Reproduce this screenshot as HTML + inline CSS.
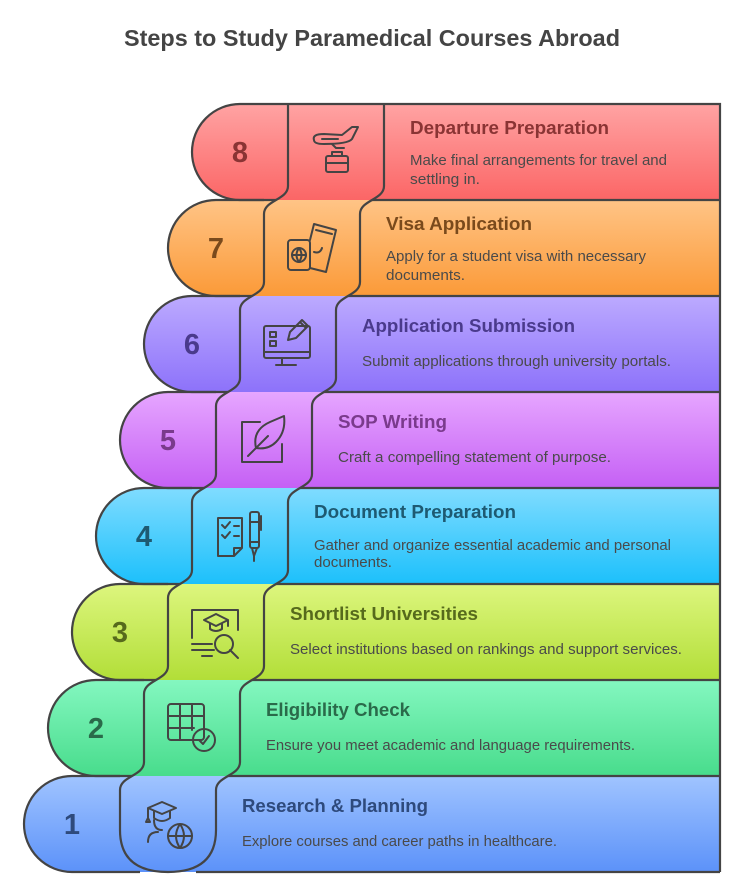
<!DOCTYPE html>
<html><head><meta charset="utf-8"><style>
html,body{margin:0;padding:0;background:#fff;}
svg{display:block;font-family:"Liberation Sans",sans-serif;}
.t{font-weight:bold;font-size:18.4px;}
.d{font-size:14.6px;fill:#4a4a4a;}
.n{font-weight:bold;font-size:29px;text-anchor:middle;}
.ic{fill:none;stroke:#444;stroke-width:2;stroke-linecap:round;stroke-linejoin:round;}
</style></head><body>
<svg width="744" height="879" viewBox="0 0 744 879">
<defs>
<linearGradient id="g8" x1="0" y1="0" x2="0" y2="1"><stop offset="0" stop-color="#ffa3a3"/><stop offset="1" stop-color="#fb6666"/></linearGradient>
<linearGradient id="g7" x1="0" y1="0" x2="0" y2="1"><stop offset="0" stop-color="#ffc486"/><stop offset="1" stop-color="#fb9a38"/></linearGradient>
<linearGradient id="g6" x1="0" y1="0" x2="0" y2="1"><stop offset="0" stop-color="#bcaaff"/><stop offset="1" stop-color="#8d72fa"/></linearGradient>
<linearGradient id="g5" x1="0" y1="0" x2="0" y2="1"><stop offset="0" stop-color="#e6a6ff"/><stop offset="1" stop-color="#c560f5"/></linearGradient>
<linearGradient id="g4" x1="0" y1="0" x2="0" y2="1"><stop offset="0" stop-color="#80dcff"/><stop offset="1" stop-color="#1cc0fb"/></linearGradient>
<linearGradient id="g3" x1="0" y1="0" x2="0" y2="1"><stop offset="0" stop-color="#ddf67e"/><stop offset="1" stop-color="#b2de38"/></linearGradient>
<linearGradient id="g2" x1="0" y1="0" x2="0" y2="1"><stop offset="0" stop-color="#84f7c0"/><stop offset="1" stop-color="#48dc8c"/></linearGradient>
<linearGradient id="g1" x1="0" y1="0" x2="0" y2="1"><stop offset="0" stop-color="#a0c4ff"/><stop offset="1" stop-color="#5c92f9"/></linearGradient>
</defs>
<text x="124" y="46" textLength="496" lengthAdjust="spacingAndGlyphs" style="font-weight:bold;font-size:23px;fill:#444">Steps to Study Paramedical Courses Abroad</text>

<path d="M240,104 H720 V200 H240 A48,48 0 0 1 240,104 Z" fill="url(#g8)"/>
<path d="M216,200 H720 V296 H216 A48,48 0 0 1 216,200 Z" fill="url(#g7)"/>
<path d="M192,296 H720 V392 H192 A48,48 0 0 1 192,296 Z" fill="url(#g6)"/>
<path d="M168,392 H720 V488 H168 A48,48 0 0 1 168,392 Z" fill="url(#g5)"/>
<path d="M144,488 H720 V584 H144 A48,48 0 0 1 144,488 Z" fill="url(#g4)"/>
<path d="M120,584 H720 V680 H120 A48,48 0 0 1 120,584 Z" fill="url(#g3)"/>
<path d="M96,680 H720 V776 H96 A48,48 0 0 1 96,680 Z" fill="url(#g2)"/>
<path d="M72,776 H720 V872 H72 A48,48 0 0 1 72,776 Z" fill="url(#g1)"/>

<g fill="none" stroke="#444" stroke-width="2.2">
<path d="M240,104 H720 V872"/>
<path d="M240,104 A48,48 0 0 0 240,200 H276"/>
<path d="M264,200 H216 A48,48 0 0 0 216,296 H252"/>
<path d="M240,296 H192 A48,48 0 0 0 192,392 H228"/>
<path d="M216,392 H168 A48,48 0 0 0 168,488 H204"/>
<path d="M192,488 H144 A48,48 0 0 0 144,584 H180"/>
<path d="M168,584 H120 A48,48 0 0 0 120,680 H156"/>
<path d="M144,680 H96 A48,48 0 0 0 96,776 H132"/>
<path d="M120,776 H72 A48,48 0 0 0 72,872 H140"/>
<path d="M372,200 H720 M348,296 H720 M324,392 H720 M300,488 H720 M276,584 H720 M252,680 H720 M228,776 H720 M196,872 H720"/>
<path d="M288,104 V186 C288,200 264,200 264,214 V282 C264,296 240,296 240,310 V378 C240,392 216,392 216,406 V474 C216,488 192,488 192,502 V570 C192,584 168,584 168,598 V666 C168,680 144,680 144,694 V762 C144,776 120,776 120,790 V830 Q120,872 168,872 Q216,872 216,830 V790 C216,776 240,776 240,762 V694 C240,680 264,680 264,666 V598 C264,584 288,584 288,570 V502 C288,488 312,488 312,474 V406 C312,392 336,392 336,378 V310 C336,296 360,296 360,282 V214 C360,200 384,200 384,186 V104"/>
</g>

<text class="n" x="240" y="162" fill="#8a3434">8</text>
<text class="n" x="216" y="258" fill="#7a4a1c">7</text>
<text class="n" x="192" y="354" fill="#4a3a8c">6</text>
<text class="n" x="168" y="450" fill="#7a3a8c">5</text>
<text class="n" x="144" y="546" fill="#1e5a72">4</text>
<text class="n" x="120" y="642" fill="#566a1c">3</text>
<text class="n" x="96" y="738" fill="#2a6a4a">2</text>
<text class="n" x="72" y="834" fill="#2e4a7c">1</text>

<g lengthAdjust="spacingAndGlyphs">
<text class="t" x="410" y="134" textLength="199" lengthAdjust="spacingAndGlyphs" fill="#8a3434">Departure Preparation</text>
<text class="d" x="410" y="165" textLength="257" lengthAdjust="spacingAndGlyphs">Make final arrangements for travel and</text>
<text class="d" x="410" y="184" textLength="70" lengthAdjust="spacingAndGlyphs">settling in.</text>
<text class="t" x="386" y="230" textLength="146" lengthAdjust="spacingAndGlyphs" fill="#7a4a1c">Visa Application</text>
<text class="d" x="386" y="261" textLength="260" lengthAdjust="spacingAndGlyphs">Apply for a student visa with necessary</text>
<text class="d" x="386" y="280" textLength="79" lengthAdjust="spacingAndGlyphs">documents.</text>
<text class="t" x="362" y="332" textLength="213" lengthAdjust="spacingAndGlyphs" fill="#4a3a8c">Application Submission</text>
<text class="d" x="362" y="366" textLength="309" lengthAdjust="spacingAndGlyphs">Submit applications through university portals.</text>
<text class="t" x="338" y="428" textLength="109" lengthAdjust="spacingAndGlyphs" fill="#7a3a8c">SOP Writing</text>
<text class="d" x="338" y="462" textLength="273" lengthAdjust="spacingAndGlyphs">Craft a compelling statement of purpose.</text>
<text class="t" x="314" y="518" textLength="202" lengthAdjust="spacingAndGlyphs" fill="#1e5a72">Document Preparation</text>
<text class="d" x="314" y="550" textLength="357" lengthAdjust="spacingAndGlyphs">Gather and organize essential academic and personal</text>
<text class="d" x="314" y="567" textLength="78" lengthAdjust="spacingAndGlyphs">documents.</text>
<text class="t" x="290" y="620" textLength="188" lengthAdjust="spacingAndGlyphs" fill="#566a1c">Shortlist Universities</text>
<text class="d" x="290" y="654" textLength="392" lengthAdjust="spacingAndGlyphs">Select institutions based on rankings and support services.</text>
<text class="t" x="266" y="716" textLength="144" lengthAdjust="spacingAndGlyphs" fill="#2a6a4a">Eligibility Check</text>
<text class="d" x="266" y="750" textLength="369" lengthAdjust="spacingAndGlyphs">Ensure you meet academic and language requirements.</text>
<text class="t" x="242" y="812" textLength="186" lengthAdjust="spacingAndGlyphs" fill="#2e4a7c">Research &amp; Planning</text>
<text class="d" x="242" y="846" textLength="315" lengthAdjust="spacingAndGlyphs">Explore courses and career paths in healthcare.</text>
</g>

<!-- icons -->
<g class="ic" transform="translate(336,152)">
<path d="M-22,-12 Q-24,-18 -12,-18 L6,-17 L16,-25 L22,-25 L16,-13 Q12,-8 -12,-8 Q-22,-8 -22,-12 Z"/><path d="M-14,-13 H2"/><path d="M-4,-8 L0,-4 H8"/>
<rect x="-10" y="4" width="22" height="16" rx="2"/><path d="M-4,4 V0 H6 V4 M-10,11 H12"/>
</g>
<g class="ic" transform="translate(312,248)">
<rect x="-24" y="-8" width="22" height="30" rx="3"/><circle cx="-13" cy="7" r="7"/><path d="M-20,7 H-6 M-13,0 Q-18,7 -13,14 Q-8,7 -13,0"/>
<path d="M-2,-8 L2,-24 L24,-18 L14,24 L-2,20"/><path d="M4,-18 L20,-14 M2,4 Q8,6 10,0"/>
</g>
<g class="ic" transform="translate(288,344)">
<rect x="-24" y="-18" width="46" height="32" rx="2"/><path d="M-24,8 H22 M-6,14 V20 M-12,21 H8"/>
<rect x="-18" y="-12" width="6" height="5"/><rect x="-18" y="-3" width="6" height="5"/>
<path d="M0,-4 L2,-12 L14,-24 L20,-18 L8,-6 Z M12,-22 L18,-16"/>
</g>
<g class="ic" transform="translate(264,440)">
<path d="M-4,-18 H-22 V22 H18 V4"/><path d="M-16,16 L4,-4 M-8,8 Q-12,-10 6,-18 L20,-24 Q22,-8 12,2 Q4,10 -8,8"/>
</g>
<g class="ic" transform="translate(240,536)">
<path d="M-22,-18 H2 V12 L-6,20 H-22 Z M2,12 H-6 V20"/><path d="M-18,-11 L-15,-8 L-10,-14 M-6,-10 H-1 M-18,-1 L-15,2 L-10,-4 M-6,0 H-1"/>
<rect x="10" y="-24" width="9" height="36" rx="2"/><path d="M10,-14 H19 M10,6 H19 M12,12 L14,20 L17,12 M14,20 V25 M21,-20 V-6"/>
</g>
<g class="ic" transform="translate(216,632)">
<path d="M-24,6 V-22 H22 V-2"/><path d="M-24,12 H-4 M-24,18 H-2 M-14,24 H-4"/>
<path d="M-12,-12 L0,-18 L12,-12 L0,-6 Z M-6,-9 V-3 Q0,1 6,-3 V-9 M12,-12 V-6"/>
<circle cx="8" cy="12" r="9"/><path d="M14,18 L22,26"/>
</g>
<g class="ic" transform="translate(192,728)">
<rect x="-24" y="-24" width="36" height="36" rx="3"/><path d="M-24,-12 H12 M-24,0 H2 M-12,-24 V12 M0,-24 V2"/>
<circle cx="12" cy="12" r="11" /><path d="M7,12 L11,16 L17,8"/>
</g>
<g class="ic" transform="translate(168,824)">
<path d="M-20,-16 L-6,-22 L8,-16 L-6,-10 Z M-14,-13 V-6 Q-6,0 2,-6 V-13 M-20,-16 V-6 L-22,-2 H-18 L-20,-6"/>
<path d="M-14,-4 Q-14,6 -6,6"/><path d="M-20,18 Q-20,8 -10,8"/>
<circle cx="12" cy="12" r="12"/><path d="M0,12 H24 M12,0 Q4,12 12,24 Q20,12 12,0"/>
</g>
</svg>
</body></html>
